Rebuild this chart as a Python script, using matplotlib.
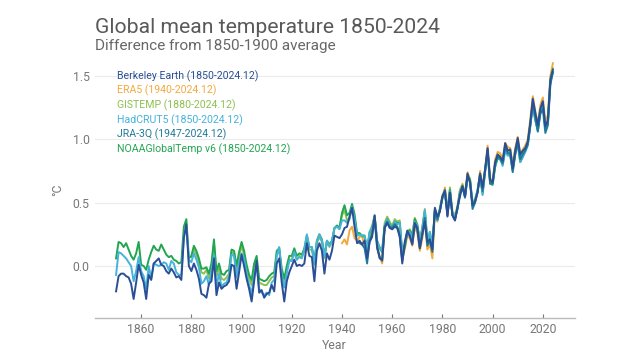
import matplotlib
matplotlib.use("Agg")
import matplotlib.pyplot as plt
import numpy as np

plt.rcParams['font.family'] = ['Roboto', 'DejaVu Sans']

# Annual global mean temperature, difference from 1850-1900 average (degC)
berkeley = [
    -0.20, -0.08, -0.06, -0.06, -0.08, -0.09, -0.14, -0.26, -0.13, 0.01,
    -0.07, -0.13, -0.26, -0.07, -0.11, 0.02, 0.04, 0.06, 0.01, 0.00,
    -0.04, -0.06, -0.02, -0.05, -0.09, -0.08, -0.11, 0.22, 0.33, 0.00,
    -0.04, 0.02, -0.03, -0.10, -0.22, -0.23, -0.25, -0.14, -0.12, 0.06,
    -0.23, -0.13, -0.18, -0.16, -0.15, -0.12, 0.01, 0.00, -0.18, -0.05,
    0.09, 0.00, -0.10, -0.18, -0.28, -0.12, 0.04, -0.21, -0.19, -0.25,
    -0.22, -0.21, -0.15, -0.20, 0.02, 0.06, -0.13, -0.28, -0.12, -0.05,
    0.00, 0.05, 0.00, 0.01, 0.00, 0.02, 0.18, 0.08, 0.07, -0.12,
    0.12, 0.18, 0.12, -0.06, 0.10, 0.05, 0.12, 0.24, 0.23, 0.22,
    0.25, 0.30, 0.31, 0.39, 0.46, 0.31, 0.18, 0.20, 0.17, 0.20,
    0.06, 0.19, 0.23, 0.40, 0.15, 0.06, 0.05, 0.30, 0.34, 0.30,
    0.29, 0.31, 0.30, 0.23, 0.02, 0.19, 0.28, 0.24, 0.17, 0.34,
    0.30, 0.14, 0.25, 0.35, 0.19, 0.21, 0.13, 0.46, 0.39, 0.43,
    0.55, 0.59, 0.39, 0.58, 0.40, 0.36, 0.46, 0.55, 0.63, 0.55,
    0.73, 0.66, 0.48, 0.51, 0.58, 0.73, 0.62, 0.76, 0.93, 0.68,
    0.66, 0.82, 0.88, 0.86, 0.83, 0.97, 0.91, 0.92, 0.77, 0.91,
    1.01, 0.88, 0.91, 0.93, 0.98, 1.13, 1.32, 1.21, 1.11, 1.24,
    1.30, 1.10, 1.15, 1.47, 1.55]

hadcrut5 = [
    -0.07, 0.11, 0.10, 0.08, 0.06, 0.03, 0.00, -0.12, -0.04, 0.07,
    -0.04, -0.08, -0.18, 0.00, -0.10, 0.02, 0.01, 0.00, 0.01, 0.03,
    0.02, -0.03, 0.04, 0.02, -0.05, -0.07, -0.07, 0.23, 0.32, 0.05,
    0.03, 0.10, 0.05, -0.01, -0.14, -0.12, -0.08, -0.15, -0.04, 0.09,
    -0.16, -0.06, -0.16, -0.14, -0.13, -0.08, 0.09, 0.08, -0.09, 0.03,
    0.10, 0.06, -0.06, -0.15, -0.22, -0.07, 0.00, -0.18, -0.21, -0.23,
    -0.21, -0.23, -0.13, -0.11, 0.08, 0.15, -0.07, -0.17, -0.06, 0.04,
    0.04, 0.11, 0.05, 0.07, 0.06, 0.13, 0.25, 0.15, 0.15, 0.02,
    0.20, 0.25, 0.20, 0.07, 0.20, 0.16, 0.19, 0.30, 0.31, 0.29,
    0.36, 0.36, 0.34, 0.37, 0.47, 0.37, 0.24, 0.25, 0.24, 0.24,
    0.13, 0.27, 0.30, 0.39, 0.20, 0.14, 0.12, 0.32, 0.37, 0.33,
    0.29, 0.35, 0.33, 0.34, 0.10, 0.17, 0.27, 0.27, 0.23, 0.35,
    0.32, 0.19, 0.30, 0.44, 0.20, 0.27, 0.16, 0.44, 0.36, 0.44,
    0.54, 0.57, 0.42, 0.59, 0.41, 0.38, 0.45, 0.58, 0.63, 0.54,
    0.70, 0.67, 0.49, 0.52, 0.60, 0.71, 0.56, 0.74, 0.90, 0.66,
    0.65, 0.79, 0.86, 0.85, 0.79, 0.91, 0.87, 0.88, 0.75, 0.88,
    0.96, 0.82, 0.86, 0.90, 0.95, 1.10, 1.27, 1.15, 1.07, 1.21,
    1.26, 1.09, 1.13, 1.45, 1.53]

noaa = [
    0.06, 0.19, 0.18, 0.15, 0.18, 0.13, 0.08, 0.05, 0.10, 0.19,
    0.01, 0.00, -0.03, 0.05, 0.11, 0.16, 0.13, 0.12, 0.17, 0.13,
    0.09, 0.07, 0.08, 0.05, 0.04, 0.02, 0.03, 0.31, 0.37, 0.06,
    0.08, 0.16, 0.12, 0.06, -0.02, -0.02, -0.01, -0.06, 0.02, 0.21,
    -0.04, 0.02, -0.06, -0.07, -0.04, -0.03, 0.13, 0.12, 0.00, 0.11,
    0.19, 0.12, 0.01, -0.07, -0.11, 0.02, 0.08, -0.10, -0.11, -0.12,
    -0.11, -0.08, -0.06, -0.05, 0.12, 0.14, -0.02, -0.10, 0.00, 0.08,
    0.08, 0.14, 0.08, 0.10, 0.09, 0.14, 0.24, 0.15, 0.15, 0.04,
    0.20, 0.25, 0.21, 0.08, 0.20, 0.17, 0.20, 0.30, 0.32, 0.30,
    0.42, 0.48, 0.40, 0.42, 0.49, 0.41, 0.26, 0.26, 0.24, 0.24,
    0.12, 0.26, 0.30, 0.39, 0.19, 0.14, 0.11, 0.31, 0.37, 0.33,
    0.30, 0.35, 0.34, 0.34, 0.08, 0.15, 0.26, 0.28, 0.24, 0.37,
    0.32, 0.18, 0.29, 0.43, 0.18, 0.25, 0.15, 0.44, 0.36, 0.45,
    0.54, 0.58, 0.43, 0.60, 0.40, 0.38, 0.45, 0.58, 0.62, 0.55,
    0.70, 0.68, 0.48, 0.52, 0.59, 0.71, 0.57, 0.75, 0.90, 0.65,
    0.64, 0.78, 0.85, 0.84, 0.80, 0.92, 0.88, 0.87, 0.76, 0.89,
    0.97, 0.82, 0.86, 0.91, 0.96, 1.11, 1.27, 1.15, 1.07, 1.22,
    1.27, 1.09, 1.13, 1.46, 1.53]

gistemp = [
    0.07, 0.13, 0.09, 0.03, -0.05, -0.06, -0.03, -0.10, 0.00, 0.17,
    -0.08, -0.02, -0.10, -0.11, -0.09, -0.06, 0.11, 0.10, -0.04, 0.07,
    0.16, 0.09, -0.02, -0.10, -0.15, -0.02, 0.05, -0.13, -0.14, -0.15,
    -0.15, -0.12, -0.09, -0.08, 0.09, 0.12, -0.05, -0.12, -0.03, 0.05,
    0.05, 0.12, 0.05, 0.08, 0.07, 0.12, 0.22, 0.13, 0.13, 0.01,
    0.18, 0.23, 0.19, 0.06, 0.19, 0.15, 0.19, 0.30, 0.31, 0.30,
    0.40, 0.44, 0.36, 0.38, 0.46, 0.38, 0.24, 0.25, 0.23, 0.23,
    0.13, 0.27, 0.32, 0.40, 0.20, 0.15, 0.12, 0.34, 0.39, 0.35,
    0.31, 0.37, 0.35, 0.36, 0.11, 0.17, 0.27, 0.29, 0.25, 0.38,
    0.33, 0.20, 0.31, 0.45, 0.21, 0.27, 0.17, 0.45, 0.38, 0.46,
    0.56, 0.60, 0.44, 0.62, 0.43, 0.40, 0.47, 0.60, 0.64, 0.57,
    0.72, 0.69, 0.50, 0.53, 0.60, 0.73, 0.60, 0.77, 0.91, 0.67,
    0.67, 0.81, 0.88, 0.86, 0.82, 0.95, 0.90, 0.91, 0.78, 0.91,
    0.99, 0.86, 0.89, 0.93, 0.98, 1.12, 1.29, 1.18, 1.09, 1.24,
    1.29, 1.11, 1.15, 1.48, 1.56]

era5 = [
    0.18, 0.21, 0.17, 0.28, 0.31, 0.22, 0.20, 0.23, 0.24, 0.15,
    0.08, 0.22, 0.28, 0.39, 0.17, 0.08, 0.02, 0.30, 0.34, 0.32,
    0.33, 0.35, 0.31, 0.25, 0.05, 0.13, 0.24, 0.22, 0.16, 0.31,
    0.26, 0.12, 0.22, 0.36, 0.13, 0.17, 0.06, 0.42, 0.35, 0.44,
    0.53, 0.62, 0.40, 0.59, 0.41, 0.38, 0.47, 0.60, 0.65, 0.56,
    0.74, 0.68, 0.47, 0.50, 0.59, 0.75, 0.62, 0.77, 0.95, 0.69,
    0.68, 0.84, 0.90, 0.89, 0.84, 0.97, 0.94, 0.93, 0.80, 0.93,
    1.02, 0.88, 0.92, 0.95, 1.00, 1.16, 1.34, 1.22, 1.12, 1.27,
    1.33, 1.14, 1.19, 1.50, 1.60]

jra3q = [
    0.18, 0.17, 0.14,
    0.02, 0.20, 0.25, 0.37, 0.14, 0.07, 0.04, 0.31, 0.35, 0.31,
    0.30, 0.33, 0.31, 0.24, 0.04, 0.17, 0.26, 0.24, 0.18, 0.33,
    0.29, 0.14, 0.25, 0.38, 0.16, 0.20, 0.11, 0.44, 0.37, 0.44,
    0.54, 0.60, 0.40, 0.58, 0.40, 0.36, 0.46, 0.57, 0.63, 0.54,
    0.71, 0.66, 0.45, 0.50, 0.58, 0.72, 0.59, 0.75, 0.92, 0.65,
    0.65, 0.80, 0.86, 0.85, 0.81, 0.94, 0.89, 0.89, 0.74, 0.88,
    0.98, 0.84, 0.88, 0.91, 0.96, 1.11, 1.29, 1.17, 1.06, 1.20,
    1.24, 1.05, 1.11, 1.43, 1.53]

labels = ["Berkeley Earth (1850-2024.12)", "ERA5 (1940-2024.12)",
          "GISTEMP (1880-2024.12)", "HadCRUT5 (1850-2024.12)",
          "JRA-3Q (1947-2024.12)", "NOAAGlobalTemp v6 (1850-2024.12)"]
colors = ["#2a4f96", "#f2aa3c", "#8cc152", "#45b3dc", "#1f7b98", "#22a551"]
start_years = [1850, 1940, 1880, 1850, 1947, 1850]
series = [berkeley, era5, gistemp, hadcrut5, jra3q, noaa]

fig = plt.figure(figsize=(6.4, 3.6), dpi=100)
ax = fig.add_axes([0.148, 0.1167, 0.75, 0.7147])

# draw order: lightest first, Berkeley on top
for i in [1, 2, 5, 3, 4, 0]:
    yrs = np.arange(start_years[i], start_years[i] + len(series[i]))
    ax.plot(yrs, series[i], color=colors[i], lw=1.4, solid_joinstyle='round')

ax.set_xlim(1841.5, 2032.7)
ax.set_ylim(-0.41, 1.62)
ax.set_xticks(np.arange(1860, 2021, 20))
ax.set_yticks([0.0, 0.5, 1.0, 1.5])
ax.set_yticklabels(["0.0", "0.5", "1.0", "1.5"])
ax.grid(axis='y', color='#ebebeb', lw=0.8)
ax.set_axisbelow(True)
for s in ['top', 'right', 'left']:
    ax.spines[s].set_visible(False)
ax.spines['bottom'].set_color('#bbbbbb')
ax.spines['bottom'].set_linewidth(1.0)
ax.tick_params(axis='x', colors='#777777', labelsize=8.8, length=3, direction='in', pad=3.5)
ax.tick_params(axis='y', colors='#777777', labelsize=8.8, length=0, pad=3.6)
ax.set_xlabel("Year", color='#777777', fontsize=8.8, labelpad=2.5)
ax.set_ylabel("°C", color='#777777', fontsize=8.8, labelpad=6)

for i, lab in enumerate(labels):
    ax.text(0.046, 0.9405 - i * 0.0567, lab, color=colors[i], fontsize=7.6,
            transform=ax.transAxes, va='center', ha='left')

fig.text(0.1484, 0.9075, "Global mean temperature 1850-2024", color='#595959',
         fontsize=15.2, va='baseline')
fig.text(0.1484, 0.861, "Difference from 1850-1900 average", color='#676767',
         fontsize=11, va='baseline')

fig.savefig("out.png", dpi=100)
